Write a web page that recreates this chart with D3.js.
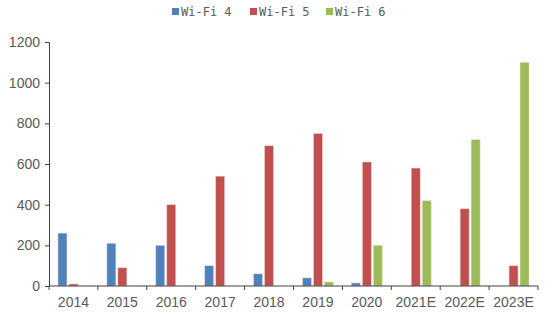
<html>
<head>
<script src="https://d3js.org/d3.v7.min.js"></script>
<style>
  body { margin: 0; background: #fff; }
  svg text { font-family: "Liberation Sans", Arial, sans-serif; fill: #595959; }
  .legend text { font-family: "DejaVu Sans Mono", monospace; font-size: 12px; }
</style>
</head>
<body>
<div id="chart"></div>
<script>
var years = ["2014", "2015", "2016", "2017", "2018", "2019", "2020", "2021E", "2022E", "2023E"];
var seriesNames = ["Wi-Fi 4", "Wi-Fi 5", "Wi-Fi 6"];
var wifi4 = [260, 210, 200, 100, 60, 40, 15, 0, 0, 0];
var wifi5 = [10, 90, 400, 540, 690, 750, 610, 580, 380, 100];
var wifi6 = [0, 0, 0, 0, 0, 20, 200, 420, 720, 1100];
var yTicks = [0, 200, 400, 600, 800, 1000, 1200];
var colors = ["#4F81BD", "#C0504D", "#9BBB59"];

var width = 554, height = 320;
var margin = {left: 49, right: 16, top: 42, bottom: 34};

var svg = d3.select("#chart").append("svg")
    .attr("width", width)
    .attr("height", height);

var x = d3.scaleBand()
    .domain(years)
    .range([margin.left, width - margin.right]);

var y = d3.scaleLinear()
    .domain([0, 1200])
    .range([height - margin.bottom, margin.top]);

var barW = 9, gap = 2;
var groupW = 3 * barW + 2 * gap;

var allSeries = [wifi4, wifi5, wifi6];

// bars, one group per series
allSeries.forEach(function(vals, s) {
    var rows = years.map(function(yr, i) { return {year: yr, v: vals[i]}; })
        .filter(function(d) { return d.v > 0; });
    svg.append("g").selectAll("rect")
        .data(rows)
        .enter()
        .append("rect")
        .attr("x", function(d) { return x(d.year) + (x.bandwidth() - groupW) / 2 + s * (barW + gap); })
        .attr("y", function(d) { return y(d.v); })
        .attr("width", barW)
        .attr("height", function(d) { return y(0) - y(d.v); })
        .attr("fill", colors[s])
        .attr("stroke", "#f4dede")
        .attr("stroke-opacity", 0.6)
        .attr("stroke-width", 0.8);
});

// y axis
var yAxis = svg.append("g")
    .attr("transform", "translate(" + margin.left + ",0)")
    .call(d3.axisLeft(y).tickValues(yTicks).tickFormat(d3.format("d")).tickSize(4).tickPadding(5));
yAxis.selectAll("text").style("font-size", "14px").attr("fill", "#595959");
yAxis.selectAll("line, path").attr("stroke", "#404040");

// x axis with ticks between categories
var xg = svg.append("g")
    .attr("transform", "translate(0," + y(0) + ")");
xg.append("line")
    .attr("x1", margin.left).attr("x2", width - margin.right)
    .attr("stroke", "#404040");
var bounds = years.map(function(d) { return x(d); }).concat([x(years[years.length - 1]) + x.bandwidth()]);
xg.selectAll(".tk").data(bounds).enter().append("line")
    .attr("x1", function(d) { return d; })
    .attr("x2", function(d) { return d; })
    .attr("y1", 0).attr("y2", 4)
    .attr("stroke", "#404040");
xg.selectAll("text").data(years).enter().append("text")
    .attr("x", function(d) { return x(d) + x.bandwidth() / 2; })
    .attr("y", 21)
    .attr("text-anchor", "middle")
    .style("font-size", "14px")
    .text(function(d) { return d; });

// legend
var legendX = [172, 250, 326];
var legend = svg.append("g").attr("class", "legend");
seriesNames.forEach(function(n, i) {
    legend.append("rect")
        .attr("x", legendX[i]).attr("y", 8)
        .attr("width", 7).attr("height", 7)
        .attr("fill", colors[i]);
    legend.append("text")
        .attr("x", legendX[i] + 9).attr("y", 16)
        .text(n);
});
</script>
</body>
</html>
